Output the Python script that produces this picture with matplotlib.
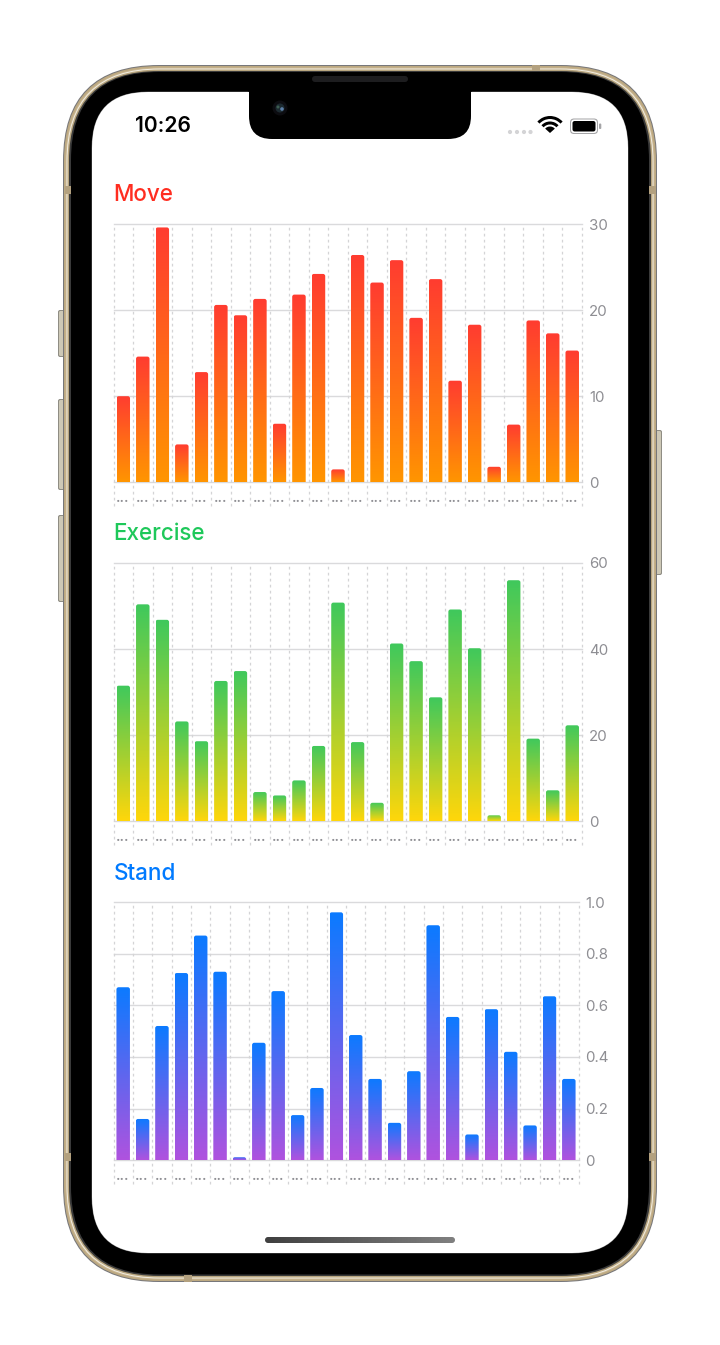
import numpy as np
import matplotlib
matplotlib.use("Agg")
import matplotlib.pyplot as plt
from matplotlib.patches import FancyBboxPatch, PathPatch, Circle, Rectangle, Wedge
from matplotlib.path import Path
from matplotlib.colors import to_rgb

move_values = [10, 14.6, 29.6, 4.4, 12.8, 20.6, 19.4, 21.3, 6.8, 21.8, 24.2, 1.5,
               26.4, 23.2, 25.8, 19.1, 23.6, 11.8, 18.3, 1.8, 6.7, 18.8, 17.3, 15.3]
exercise_values = [31.5, 50.4, 46.8, 23.2, 18.6, 32.6, 34.9, 6.8, 6, 9.5, 17.5, 50.8,
                   18.4, 4.3, 41.3, 37.2, 28.8, 49.2, 40.2, 1.4, 56, 19.2, 7.2, 22.3]
stand_values = [0.67, 0.16, 0.52, 0.725, 0.87, 0.73, 0.012, 0.455, 0.655, 0.175, 0.28, 0.96,
                0.485, 0.315, 0.145, 0.345, 0.91, 0.555, 0.1, 0.585, 0.42, 0.135, 0.635, 0.315]
move_ticks = [0, 10, 20, 30]
exercise_ticks = [0, 20, 40, 60]
stand_ticks = [0, 0.2, 0.4, 0.6, 0.8, 1.0]
stand_tick_labels = ["0", "0.2", "0.4", "0.6", "0.8", "1.0"]
titles = ["Move", "Exercise", "Stand"]
category_label = "..."

W, H = 720, 1345
plt.rcParams['font.family'] = ['Inter', 'DejaVu Sans']
fig = plt.figure(figsize=(W / 100, H / 100), dpi=100, facecolor="white")

# ---- device frame, in pixel coordinates
bg = fig.add_axes([0, 0, 1, 1], zorder=0)
bg.set_xlim(0, W); bg.set_ylim(H, 0); bg.axis("off")


def rr(x0, y0, x1, y1, r, color, z=1):
    bg.add_patch(FancyBboxPatch((x0, y0), x1 - x0, y1 - y0,
                                boxstyle=f"round,pad=0,rounding_size={r}",
                                fc=color, ec="none", zorder=z))


for (x0, y0, x1, y1) in [(58, 310, 66, 357), (58, 399, 66, 490), (58, 515, 66, 602), (654, 430, 662, 575)]:
    rr(x0, y0, x1, y1, 2, "#8f8d84", 1)
    rr(x0 + 1, y0 + 1, x1 - 1, y1 - 1, 1.5, "#cdc8b6", 1)

rr(63, 65, 657, 1282, 96, "#77777a", 2)
rr(64, 66, 656, 1281, 95, "#bda981", 2)
rr(65.5, 67.5, 654.5, 1279.5, 94, "#c9b692", 2)
rr(66.5, 68.5, 653.5, 1278.5, 93, "#f3eee2", 2)
rr(67.5, 69.5, 652.5, 1277.5, 92, "#b9a67f", 2)
rr(69, 71, 651, 1276, 90, "#3a3a3a", 2)
rr(71, 72, 649, 1274.5, 88, "#000000", 2)
rr(91.6, 91.6, 628.4, 1253.4, 56.4, "#6a6a6a", 3)
rr(92, 92, 628, 1253, 56, "#ffffff", 3)

for (x, y, w, h) in [(532, 65, 8, 6), (65, 186, 6, 8), (649, 186, 7, 8), (65, 1153, 6, 8),
                     (649, 1153, 7, 8), (184, 1275, 8, 7)]:
    bg.add_patch(Rectangle((x, y), w, h, fc="#b3a17f", ec="none", zorder=4))

# notch
nx0, nx1, ny0, ny1 = 249, 471, 92, 139
c = 8
r = 23
notch = Path(
    [(nx0 - 1, ny0 - 1), (nx0, ny0), (nx0, ny0 + c), (nx0, ny1 - r), (nx0, ny1), (nx0 + r, ny1),
     (nx1 - r, ny1), (nx1, ny1), (nx1, ny1 - r), (nx1, ny0 + c), (nx1, ny0), (nx1 + 1, ny0 - 1),
     (nx0 - 1, ny0 - 1)],
    [Path.MOVETO, Path.LINETO, Path.LINETO, Path.LINETO, Path.CURVE3, Path.CURVE3,
     Path.LINETO, Path.CURVE3, Path.CURVE3, Path.LINETO, Path.LINETO, Path.LINETO, Path.CLOSEPOLY])
bg.add_patch(PathPatch(notch, fc="black", ec="none", zorder=4))

rr(312, 76, 408, 82, 3, "#1d1d1f", 4)
bg.add_patch(Circle((280, 108), 7.5, fc="#0c0c10", ec="none", zorder=5))
bg.add_patch(Circle((280, 108), 4.5, fc="#1c2a30", ec="none", zorder=5))
bg.add_patch(Circle((282, 109), 1.8, fc="#5c7fa8", ec="none", zorder=5))
bg.add_patch(Circle((278, 107), 1.5, fc="#3d5d50", ec="none", zorder=5))

bg.text(163, 126.5, "10:26", fontsize=15.2, fontweight="semibold", color="black",
        ha="center", va="center", zorder=5)
for x in [510, 517, 524, 530.5]:
    bg.add_patch(Circle((x, 132), 2.1, fc="#d4d4d6", ec="none", zorder=5))
wx, wy = 550, 133
for rad in [17, 11.5, 6.5]:
    bg.add_patch(Wedge((wx, wy), rad, 222, 318, width=3 if rad > 7 else 6.5, fc="black", ec="none", zorder=5))
rr(570, 118.5, 598, 134, 4, "#a5a5a7", 5)
rr(571, 119.5, 597, 133, 3.4, "#ffffff", 5)
rr(572.5, 121, 595.5, 131.5, 2.2, "#000000", 5)
rr(599, 123.5, 601.3, 129, 1, "#a5a5a7", 5)

grad = np.linspace(0.25, 0.5, 200)[None, :]
bg.imshow(grad, extent=[265, 455, 1243, 1237], cmap="gray", vmin=0, vmax=1, aspect="auto", zorder=5)
home_clip = FancyBboxPatch((265, 1237), 190, 6, boxstyle="round,pad=0,rounding_size=3", transform=bg.transData,
                           fc="none", ec="none")
bg.add_patch(home_clip)
bg.images[-1].set_clip_path(home_clip)
bg.set_xlim(0, W); bg.set_ylim(H, 0)


# ---- charts
def panel(values, ticks, tick_labels, title, title_color, c_top, c_bot, left, right, top, bottom, title_y):
    ax = fig.add_axes([left / W, 1 - bottom / H, (right - left) / W, (bottom - top) / H], zorder=2)
    ax.patch.set_alpha(0)
    ymax = ticks[-1]
    n = len(values)
    ppy = (bottom - top) / ymax
    ppx = (right - left) / n
    ext = 24 / ppy
    for s in ax.spines.values():
        s.set_visible(False)
    ax.set_xticks([]); ax.set_yticks([])
    for t, lab in zip(ticks, tick_labels):
        ax.plot([-0.5, n - 0.5], [t, t], color="#dadadc", lw=1.0, zorder=1, clip_on=False)
        ax.annotate(lab, (n - 0.5, t), xytext=(7, -1.5), textcoords="offset pixels", fontsize=10.8,
                    color="#8e8e93", va="center", ha="left", annotation_clip=False)
    for i in range(n + 1):
        ax.plot([i - 0.5, i - 0.5], [-ext, ymax], color="#d4d4d6", lw=0.9, ls=(0, (2.2, 2.6)),
                zorder=1, clip_on=False)
    for i in range(n):
        ax.annotate(category_label, (i - 0.5, -ext), xytext=(2.5, 4), textcoords="offset pixels",
                    fontsize=9.5, color="#8e8e93", va="baseline", ha="left", annotation_clip=False,
                    fontweight="bold")
    top_rgb, bot_rgb = np.array(to_rgb(c_top)), np.array(to_rgb(c_bot))
    t = np.linspace(0, 1, 256)[:, None, None]
    img = np.round(255 * ((1 - t) * top_rgb[None, None, :] + t * bot_rgb[None, None, :])).astype(np.uint8)
    w = 13.5 / ppx
    for i, v in enumerate(values):
        x0, x1 = i - w / 2, i + w / 2
        rx = min(2.2 / ppx, w / 2)
        ry = min(2.2 / ppy, v)
        path = Path([(x0, 0), (x0, v - ry), (x0, v), (x0 + rx, v), (x1 - rx, v), (x1, v), (x1, v - ry), (x1, 0), (x0, 0)],
                    [Path.MOVETO, Path.LINETO, Path.CURVE3, Path.CURVE3, Path.LINETO, Path.CURVE3, Path.CURVE3,
                     Path.LINETO, Path.CLOSEPOLY])
        clip = PathPatch(path, fc="none", ec="none", transform=ax.transData)
        ax.add_patch(clip)
        im = ax.imshow(img, extent=[x0, x1, 0, v], aspect="auto", zorder=3, interpolation="nearest")
        im.set_clip_path(clip)
    ax.set_xlim(-0.5, n - 0.5)
    ax.set_ylim(0, ymax)
    bg.text(113.5, title_y, title, fontsize=16.2, fontweight="medium", color=title_color, va="center", ha="left", zorder=5)
    return ax


panel(move_values, move_ticks, [str(t) for t in move_ticks], titles[0], "#ff2d20",
      "#ff3b30", "#ff9500", 113.5, 582, 224, 482.3, 195)
panel(exercise_values, exercise_ticks, [str(t) for t in exercise_ticks], titles[1], "#1ec85a",
      "#3ec85c", "#ffd60a", 113.5, 582, 563, 821.3, 534.5)
panel(stand_values, stand_ticks, stand_tick_labels, titles[2], "#007aff",
      "#0a7aff", "#af52de", 113.5, 578.5, 902, 1160.3, 874)

fig.savefig("out.png", dpi=100, facecolor="white")
